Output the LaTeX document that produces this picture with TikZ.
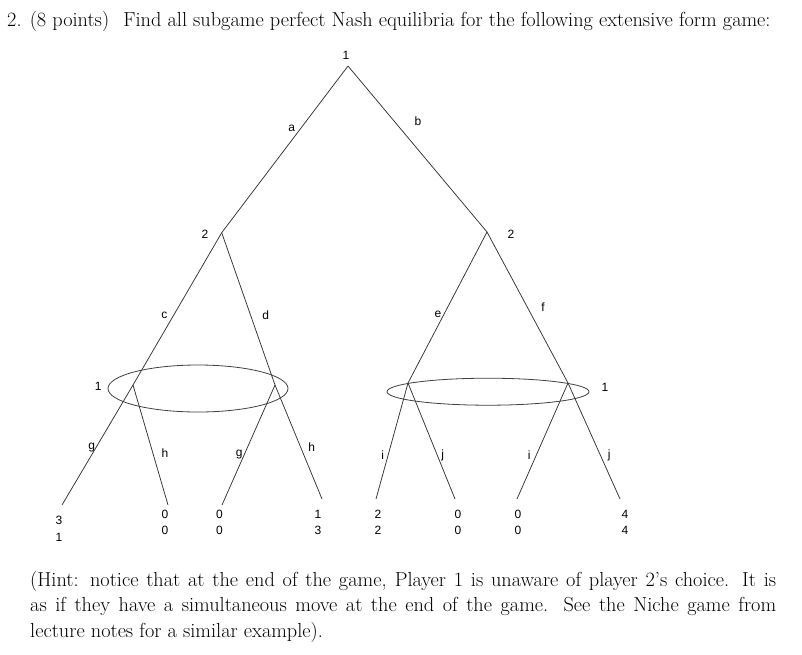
\documentclass[tikz,border=0pt]{standalone}
\usepackage{fontspec}
\newfontfamily\arialf{Liberation Sans}
\begin{document}
\begin{tikzpicture}[x=1pt,y=-1pt,
  edge/.style={draw=black!80, line width=0.75pt},
  infoset/.style={draw=black!75, line width=0.8pt},
  lab/.style={font=\arialf\fontsize{12}{14}\selectfont, inner sep=0pt},
  pay/.style={align=center, inner sep=0pt, font=\arialf\fontsize{12}{16.5}\selectfont}]
\useasboundingbox (0,0) rectangle (802,654);
\fill[white] (0,0) rectangle (802,654);
% decision nodes
\coordinate (r) at (348,66);
\coordinate (L) at (221.7,232.7);
\coordinate (R) at (487,232);
\coordinate (L1) at (133,385);
\coordinate (L2) at (275,385);
\coordinate (R1) at (408,383);
\coordinate (R2) at (568,383);
% terminal ends
\coordinate (t1) at (62,505);
\coordinate (t2) at (168,505);
\coordinate (t3) at (222,505);
\coordinate (t4) at (322,499);
\coordinate (t5) at (376,499);
\coordinate (t6) at (455,499);
\coordinate (t7) at (517,499);
\coordinate (t8) at (620,499);
% edges
\draw[edge] (r) -- (L);
\draw[edge] (r) -- (R);
\draw[edge] (L) -- (L1);
\draw[edge] (L) -- (L2);
\draw[edge] (R) -- (R1);
\draw[edge] (R) -- (R2);
\draw[edge] (L1) -- (t1);
\draw[edge] (L1) -- (t2);
\draw[edge] (L2) -- (t3);
\draw[edge] (L2) -- (t4);
\draw[edge] (R1) -- (t5);
\draw[edge] (R1) -- (t6);
\draw[edge] (R2) -- (t7);
\draw[edge] (R2) -- (t8);
% information sets
\draw[infoset] (198,388.5) ellipse [x radius=90, y radius=23.5];
\draw[infoset] (488,391.7) ellipse [x radius=101, y radius=13.5];
% player labels
\node[lab] (pr) at (346,55) {1};
\node[lab] (pL) at (205,234) {2};
\node[lab] (pR) at (511,234) {2};
\node[lab] (pL1) at (98.3,386.7) {1};
\node[lab] (pR1) at (605,387.3) {1};
% action labels
\node[lab] (la) at (291.7,128) {a};
\node[lab] (lb) at (418,121.7) {b};
\node[lab] (lc) at (164.3,315) {c};
\node[lab] (ld) at (265.7,315) {d};
\node[lab] (le) at (438,314) {e};
\node[lab] (lf) at (543,307) {f};
\node[lab] (lg1) at (91.7,448) {g};
\node[lab] (lh1) at (165,453) {h};
\node[lab] (lg2) at (239.3,455) {g};
\node[lab] (lh2) at (311.7,446.7) {h};
\node[lab] (li1) at (382.7,455) {i};
\node[lab] (lj1) at (442.7,455) {j};
\node[lab] (li2) at (529.3,455) {i};
\node[lab] (lj2) at (609.3,455) {j};
% payoffs
\node[pay] (p1) at (59,528.7) {3\\1};
\node[pay] (p2) at (165,522.3) {0\\0};
\node[pay] (p3) at (219.5,522.3) {0\\0};
\node[pay] (p4) at (318,522.3) {1\\3};
\node[pay] (p5) at (378,522.3) {2\\2};
\node[pay] (p6) at (458,522.3) {0\\0};
\node[pay] (p7) at (518,522.3) {0\\0};
\node[pay] (p8) at (625,522.3) {4\\4};
% texts
\node[anchor=base west, inner sep=0pt, font=\fontsize{20.3}{25}\selectfont] (hdr) at (7,26)
  {2. (8 points)\hspace{0.4em} Find all subgame perfect Nash equilibria for the following extensive form game:};
\node[anchor=north west, inner sep=0pt, text width=746pt, align=justify, font=\fontsize{20.3}{25.5}\selectfont] (hint) at (30,571)
  {(Hint: notice that at the end of the game, Player 1 is unaware of player 2's choice. It is\linebreak
   as if they have a simultaneous move at the end of the game. See the Niche game from\linebreak
   lecture notes for a similar example).};
\end{tikzpicture}
\end{document}
